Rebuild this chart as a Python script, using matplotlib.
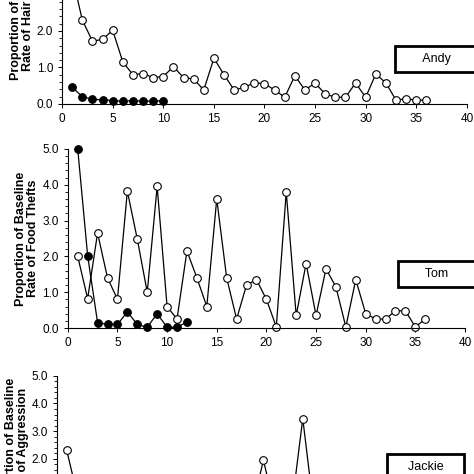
import matplotlib.pyplot as plt
from matplotlib.ticker import MultipleLocator

plt.rcParams['font.family'] = ['Liberation Sans', 'DejaVu Sans']

sessions = list(range(1, 37))

andy_open = [3.5, 2.3, 1.72, 1.77, 2.02, 1.15, 0.8, 0.83, 0.72, 0.75, 1.02, 0.72,
             0.68, 0.38, 1.25, 0.8, 0.38, 0.45, 0.58, 0.55, 0.38, 0.18, 0.77, 0.38,
             0.57, 0.27, 0.18, 0.18, 0.57, 0.18, 0.82, 0.57, 0.1, 0.14, 0.1, 0.1]
andy_filled = [0.45, 0.2, 0.12, 0.11, 0.09, 0.07, 0.09, 0.07, 0.08, 0.08]

tom_open = [2.0, 0.82, 2.65, 1.4, 0.8, 3.82, 2.48, 1.0, 3.95, 0.6, 0.25, 2.15,
            1.4, 0.6, 3.6, 1.4, 0.25, 1.2, 1.35, 0.8, 0.03, 3.8, 0.35, 1.8,
            0.35, 1.65, 1.15, 0.03, 1.35, 0.4, 0.25, 0.25, 0.48, 0.48, 0.03, 0.25]
tom_filled = [5.0, 2.02, 0.15, 0.1, 0.1, 0.45, 0.1, 0.02, 0.4, 0.02, 0.02, 0.17]

# only partly visible in the crop; values below ~1.4 are hidden guesses
jackie_x = list(range(1, 31))
jackie_open = [2.3, 0.8, 0.5, 0.6, 0.4, 0.5, 0.3, 0.6, 0.4, 0.3, 0.5, 0.4, 0.3, 0.5, 0.2,
               0.4, 0.3, 0.5, 0.3, 0.4, 1.95, 0.4, 0.3, 0.6, 3.45, 0.5, 0.3, 0.4, 0.2, 0.3]

fig = plt.figure(figsize=(4.74, 4.74), dpi=100)


def panel(rect, ylabel, name, box_xy):
    ax = fig.add_axes(rect)
    ax.set_xlim(0, 40)
    ax.set_ylim(0, 5)
    ax.xaxis.set_major_locator(MultipleLocator(5))
    ax.yaxis.set_major_locator(MultipleLocator(1))
    ax.yaxis.set_minor_locator(MultipleLocator(0.2))
    ax.yaxis.set_major_formatter(lambda v, p: f"{v:.1f}")
    for s in ['top', 'right']:
        ax.spines[s].set_visible(False)
    ax.tick_params(labelsize=8.5, length=3, width=0.7)
    ax.tick_params(which='minor', length=2, width=0.6)
    ax.set_ylabel(ylabel, fontsize=9, fontweight='bold', labelpad=2, linespacing=1.0)
    fig.text(box_xy[0], box_xy[1], name, fontsize=9, ha='center', va='center',
             bbox=dict(boxstyle='square,pad=0.55', fc='white', ec='black', lw=2))
    return ax


mk = dict(color='black', lw=0.9, markersize=5.5, markeredgewidth=0.8)

ax1 = panel([0.131, 0.781, 0.854, 0.384], "Proportion of Baseline\nRate of Hair Pulling",
            "      Andy      ", (0.922, 0.875))
ax1.plot(sessions, andy_open, 'o-', mfc='white', clip_on=False, **mk)
ax1.plot(sessions[:len(andy_filled)], andy_filled, 'o-', mfc='black', clip_on=False, **mk)

ax2 = panel([0.143, 0.308, 0.838, 0.378], "Proportion of Baseline\nRate of Food Thefts",
            "      Tom      ", (0.922, 0.422))
ax2.plot(sessions, tom_open, 'o-', mfc='white', clip_on=False, **mk)
ax2.plot(sessions[:len(tom_filled)], tom_filled, 'o-', mfc='black', clip_on=False, **mk)

ax3 = panel([0.120, -0.084, 0.83, 0.291], "Proportion of Baseline\nRate of Aggression",
            "    Jackie    ", (0.898, 0.015))
ax3.plot(jackie_x, jackie_open, 'o-', mfc='white', clip_on=False, **mk)

fig.savefig("out.png", dpi=100)
